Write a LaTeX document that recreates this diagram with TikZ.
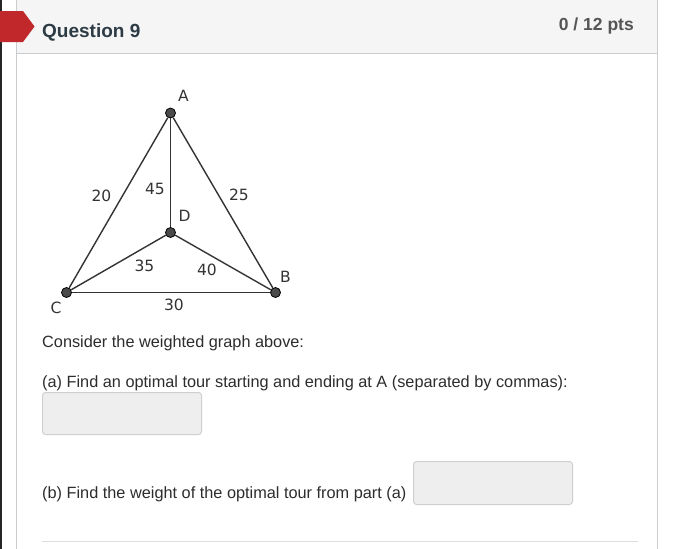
\documentclass[tikz,border=0pt]{standalone}
\usepackage{fontspec}
\setmainfont{Liberation Sans}
\newfontfamily\graphfont{DejaVu Sans}
\definecolor{tagred}{HTML}{C0282B}
\definecolor{headbg}{HTML}{F5F5F5}
\definecolor{panelline}{HTML}{C9CDD0}
\definecolor{titletxt}{HTML}{2D3B45}
\definecolor{ptstxt}{HTML}{555555}
\definecolor{bodytxt}{HTML}{2D2D2D}
\definecolor{boxfill}{HTML}{EEEEEE}
\definecolor{boxline}{HTML}{CFCFCF}
\definecolor{edgecol}{HTML}{333333}
\definecolor{vertexfill}{HTML}{4A4A4A}
\begin{document}
\begin{tikzpicture}[x=1pt,y=-1pt,
  vertex/.style={circle,fill=vertexfill,draw=black,line width=0.8pt,minimum size=10pt,inner sep=0pt},
  edge/.style={draw=edgecol,line width=1.4pt},
  glabel/.style={font=\graphfont\fontsize{15.5}{15.5}\selectfont,text=edgecol,inner sep=0pt},
  bodytext/.style={font=\fontsize{16.3}{18}\selectfont,text=bodytxt,inner sep=0pt,anchor=base west},
  inputbox/.style={draw=boxline,fill=boxfill,rounded corners=3pt,line width=1pt}
]
\useasboundingbox (0,0) rectangle (691,549);
\fill[white] (0,0) rectangle (691,549);
% header
\fill[headbg] (16.5,0) rectangle (657.5,53.5);
\draw[panelline,line width=1.2pt] (16.5,53.5) -- (657.5,53.5);
% panel side borders
\draw[panelline,line width=1.4pt] (16.5,0) -- (16.5,549);
\draw[panelline,line width=1.4pt] (657.5,0) -- (657.5,549);
% left dark line
\draw[black!85,line width=1.6pt] (0.8,0) -- (0.8,549);
% red tag
\fill[tagred] (0,11) -- (23,11) -- (34.5,26.5) -- (23,42) -- (0,42) -- cycle;
\node[anchor=base west,inner sep=0pt,font=\bfseries\fontsize{19}{20}\selectfont,text=titletxt] (title) at (42,37.5) {Question 9};
\node[anchor=base east,inner sep=0pt,font=\bfseries\fontsize{17.5}{20}\selectfont,text=ptstxt] (pts) at (634,30.7) {0 / 12 pts};
% graph
\node[vertex] (A) at (170.5,113) {};
\node[vertex] (D) at (170.5,232.5) {};
\node[vertex] (C) at (66.5,292.5) {};
\node[vertex] (B) at (275.5,292.5) {};
\draw[edge] (A) -- (D);
\draw[edge] (A) -- (C);
\draw[edge] (A) -- (B);
\draw[edge] (D) -- (C);
\draw[edge] (D) -- (B);
\draw[edge] (C) -- (B);
\node[glabel] (lA) at (183.5,96) {A};
\node[glabel] (lD) at (184.5,216) {D};
\node[glabel] (lB) at (285.5,276.5) {B};
\node[glabel] (lC) at (56,307.5) {C};
\node[glabel] (w20) at (101.5,195.5) {20};
\node[glabel] (w45) at (155,188.5) {45};
\node[glabel] (w25) at (239,194.5) {25};
\node[glabel] (w35) at (144.5,265.5) {35};
\node[glabel] (w40) at (207,269.5) {40};
\node[glabel] (w30) at (174,304.5) {30};
% texts
\node[bodytext] (t1) at (42,347.5) {Consider the weighted graph above:};
\node[bodytext] (t2) at (42,387.5) {(a) Find an optimal tour starting and ending at A (separated by commas):};
\node[inputbox,minimum width=159pt,minimum height=42pt,anchor=north west] (boxa) at (42,392) {};
\node[bodytext] (t3) at (42,498) {(b) Find the weight of the optimal tour from part (a)};
\node[inputbox,minimum width=159pt,minimum height=43pt,anchor=north west] (boxb) at (413,461) {};
% bottom rule
\draw[black!13,line width=1.5pt] (42,541.5) -- (638,541.5);
\end{tikzpicture}
\end{document}
